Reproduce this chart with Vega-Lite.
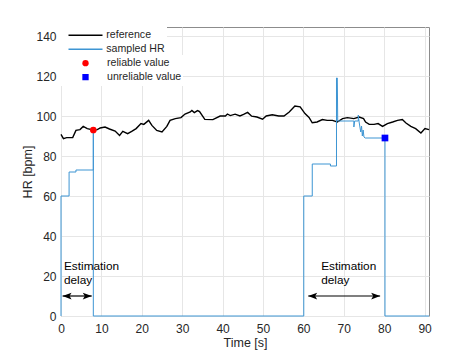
{
  "$schema": "https://vega.github.io/schema/vega-lite/v6.json",
  "width": 368,
  "height": 289,
  "autosize": {"type": "none"},
  "padding": {"left": 61, "top": 27, "right": 45, "bottom": 39},
  "background": "white",
  "config": {
    "view": {"stroke": "#8c8c8c"},
    "axis": {
      "labelFont": "Liberation Sans", "labelFontSize": 12, "labelColor": "#262626",
      "titleFont": "Liberation Sans", "titleFontSize": 12.5, "titleFontWeight": "normal", "titleColor": "#262626",
      "gridColor": "#e6e6e6"
    },
    "legend": {
      "labelFont": "Liberation Sans", "labelFontSize": 10.6, "labelColor": "#262626"
    }
  },
  "datasets": {
    "ref": [
      {"t": 0, "v": 90.8}, {"t": 0.6, "v": 88.7}, {"t": 1.4, "v": 89.2}, {"t": 2.9, "v": 89.2},
      {"t": 3.7, "v": 92.8}, {"t": 4.7, "v": 93.2}, {"t": 5.5, "v": 94.8}, {"t": 6.5, "v": 93.7},
      {"t": 8.0, "v": 93.0}, {"t": 9.0, "v": 93.2}, {"t": 9.7, "v": 94.0}, {"t": 10.9, "v": 94.5},
      {"t": 12.0, "v": 93.5}, {"t": 13.4, "v": 92.5}, {"t": 14.5, "v": 90.3}, {"t": 15.3, "v": 92.3},
      {"t": 16.5, "v": 91.2}, {"t": 17.5, "v": 92.3}, {"t": 18.6, "v": 93.7}, {"t": 19.8, "v": 96.2},
      {"t": 20.5, "v": 95.8}, {"t": 21.7, "v": 97.8}, {"t": 22.5, "v": 95.3}, {"t": 23.7, "v": 92.8},
      {"t": 25.0, "v": 92.0}, {"t": 26.2, "v": 94.8}, {"t": 27.0, "v": 97.8}, {"t": 28.3, "v": 98.7},
      {"t": 29.7, "v": 99.2}, {"t": 30.7, "v": 101.0}, {"t": 32.0, "v": 102.0}, {"t": 32.4, "v": 102.8},
      {"t": 33.0, "v": 101.7}, {"t": 33.8, "v": 102.7}, {"t": 34.3, "v": 102.2}, {"t": 35.6, "v": 98.3},
      {"t": 37.6, "v": 98.2}, {"t": 39.4, "v": 100.0}, {"t": 40.7, "v": 100.0}, {"t": 41.2, "v": 101.0},
      {"t": 41.9, "v": 100.2}, {"t": 43.1, "v": 100.9}, {"t": 44.3, "v": 100.0}, {"t": 45.2, "v": 100.8},
      {"t": 46.2, "v": 101.8}, {"t": 47.2, "v": 99.9}, {"t": 48.5, "v": 99.5}, {"t": 49.9, "v": 98.4},
      {"t": 50.8, "v": 100.0}, {"t": 52.3, "v": 100.6}, {"t": 53.9, "v": 100.0}, {"t": 55.2, "v": 100.0},
      {"t": 56.5, "v": 102.0}, {"t": 57.9, "v": 105.0}, {"t": 59.2, "v": 104.6}, {"t": 60.4, "v": 101.2},
      {"t": 61.4, "v": 99.3}, {"t": 62.2, "v": 96.6}, {"t": 63.4, "v": 97.0}, {"t": 64.7, "v": 98.2},
      {"t": 65.9, "v": 97.8}, {"t": 67.2, "v": 97.8}, {"t": 68.4, "v": 97.0}, {"t": 69.7, "v": 98.7},
      {"t": 70.9, "v": 99.2}, {"t": 72.5, "v": 98.7}, {"t": 73.8, "v": 99.5}, {"t": 74.9, "v": 98.7},
      {"t": 75.4, "v": 97.0}, {"t": 76.3, "v": 95.8}, {"t": 77.5, "v": 95.8}, {"t": 78.5, "v": 96.2},
      {"t": 79.6, "v": 94.8}, {"t": 80.8, "v": 96.2}, {"t": 82.1, "v": 97.0}, {"t": 83.3, "v": 97.8},
      {"t": 84.5, "v": 98.2}, {"t": 85.4, "v": 96.5}, {"t": 86.6, "v": 94.8}, {"t": 87.8, "v": 93.7},
      {"t": 89.1, "v": 91.5}, {"t": 90.1, "v": 93.7}, {"t": 91.1, "v": 93.2}
    ],
    "hr": [
      {"i": 0, "t": 0, "v": 0}, {"i": 1, "t": 0, "v": 60}, {"i": 2, "t": 2, "v": 60}, {"i": 3, "t": 2, "v": 72},
      {"i": 4, "t": 3.7, "v": 72}, {"i": 5, "t": 3.7, "v": 73}, {"i": 6, "t": 8, "v": 73}, {"i": 7, "t": 8, "v": 93},
      {"i": 8, "t": 8, "v": 0}, {"i": 9, "t": 60.1, "v": 0}, {"i": 10, "t": 60.1, "v": 60}, {"i": 11, "t": 62.2, "v": 60},
      {"i": 12, "t": 62.2, "v": 76}, {"i": 13, "t": 66.7, "v": 76}, {"i": 14, "t": 66.7, "v": 75}, {"i": 15, "t": 68.2, "v": 75},
      {"i": 16, "t": 68.2, "v": 119}, {"i": 17, "t": 68.4, "v": 119}, {"i": 18, "t": 68.5, "v": 97.5}, {"i": 19, "t": 72.5, "v": 97.5},
      {"i": 20, "t": 72.5, "v": 94.5}, {"i": 21, "t": 72.7, "v": 97.5}, {"i": 22, "t": 73.6, "v": 97.5}, {"i": 23, "t": 73.6, "v": 100.5},
      {"i": 24, "t": 73.8, "v": 97}, {"i": 25, "t": 74.2, "v": 92}, {"i": 26, "t": 74.4, "v": 95}, {"i": 27, "t": 74.6, "v": 90},
      {"i": 28, "t": 74.8, "v": 93}, {"i": 29, "t": 75.0, "v": 89.5}, {"i": 30, "t": 75.3, "v": 89}, {"i": 31, "t": 80.2, "v": 89},
      {"i": 32, "t": 80.2, "v": 0}, {"i": 33, "t": 91.1, "v": 0}
    ],
    "pts": [
      {"t": 8, "v": 93, "kind": "reliable value"},
      {"t": 80.2, "v": 89, "kind": "unreliable value"}
    ],
    "arrows": [
      {"t": 0.4, "t2": 7.6, "v": 10},
      {"t": 61.2, "t2": 79.0, "v": 10}
    ],
    "heads": [
      {"t": 1.5, "v": 10, "dir": "left"}, {"t": 6.5, "v": 10, "dir": "right"},
      {"t": 62.3, "v": 10, "dir": "left"}, {"t": 77.9, "v": 10, "dir": "right"}
    ],
    "notes": [
      {"t": 0.74, "v": 23.2, "label": "Estimation\ndelay"},
      {"t": 64.4, "v": 22.9, "label": "Estimation\ndelay"}
    ]
  },
  "encoding": {
    "x": {"field": "t", "type": "quantitative",
      "scale": {"domain": [0, 91.1], "nice": false, "zero": false},
      "axis": {"values": [0, 10, 20, 30, 40, 50, 60, 70, 80, 90], "title": "Time [s]", "domain": false, "ticks": false, "labelPadding": 7, "titlePadding": 2, "labelFlush": false}},
    "y": {"field": "v", "type": "quantitative",
      "scale": {"domain": [0, 144.5], "nice": false, "zero": false},
      "axis": {"values": [0, 20, 40, 60, 80, 100, 120, 140], "title": "HR [bpm]", "domain": false, "ticks": false, "labelPadding": 5, "titlePadding": 1}}
  },
  "layer": [
    {
      "data": {"name": "ref"},
      "mark": {"type": "line", "strokeWidth": 1.4},
      "encoding": {
        "color": {"datum": "reference", "type": "nominal",
          "scale": {"domain": ["reference", "sampled HR"], "range": ["#000000", "#3d95d3"]},
          "legend": {"title": null, "orient": "none", "legendX": 0, "legendY": 0, "symbolType": "stroke", "symbolSize": 1156, "symbolStrokeWidth": 1.5, "clipHeight": 13.3, "rowPadding": 0, "padding": 1.5, "symbolOffset": 5, "labelOffset": 2.8, "fillColor": "white"}}
      }
    },
    {
      "data": {"name": "hr"},
      "mark": {"type": "line", "strokeWidth": 1},
      "encoding": {
        "order": {"field": "i", "type": "quantitative"},
        "color": {"datum": "sampled HR", "type": "nominal"}
      }
    },
    {
      "data": {"name": "arrows"},
      "mark": {"type": "rule", "color": "black", "strokeWidth": 1.2},
      "encoding": {
        "x2": {"field": "t2"}
      }
    },
    {
      "data": {"name": "heads"},
      "transform": [{"filter": "datum.dir === 'left'"}],
      "mark": {"type": "point", "filled": true, "color": "black", "opacity": 1, "size": 81, "shape": "M-1,0L1,-0.75L0.55,0L1,0.75Z"}
    },
    {
      "data": {"name": "heads"},
      "transform": [{"filter": "datum.dir === 'right'"}],
      "mark": {"type": "point", "filled": true, "color": "black", "opacity": 1, "size": 81, "shape": "M1,0L-1,-0.75L-0.55,0L-1,0.75Z"}
    },
    {
      "data": {"name": "notes"},
      "mark": {"type": "text", "align": "left", "baseline": "alphabetic", "fontSize": 11.8, "lineBreak": "\n", "lineHeight": 14, "color": "#000000", "font": "Liberation Sans"},
      "encoding": {
        "text": {"field": "label", "type": "nominal"}
      }
    },
    {
      "data": {"name": "pts"},
      "mark": {"type": "point", "filled": true, "opacity": 1, "size": 45},
      "encoding": {
        "fill": {"field": "kind", "type": "nominal",
          "scale": {"domain": ["reliable value", "unreliable value"], "range": ["#ff0000", "#0000ff"]},
          "legend": {"title": null, "orient": "none", "legendX": 0, "legendY": 28, "symbolSize": 40, "clipHeight": 13.3, "rowPadding": 0, "padding": 1.5, "symbolOffset": 17.7, "labelOffset": 16.2, "fillColor": "white"}},
        "shape": {"field": "kind", "type": "nominal",
          "scale": {"domain": ["reliable value", "unreliable value"], "range": ["circle", "square"]},
          "legend": {"title": null, "orient": "none", "legendX": 0, "legendY": 28, "symbolSize": 40, "clipHeight": 13.3, "rowPadding": 0, "padding": 1.5, "symbolOffset": 17.7, "labelOffset": 16.2, "fillColor": "white"}}
      }
    }
  ]
}
